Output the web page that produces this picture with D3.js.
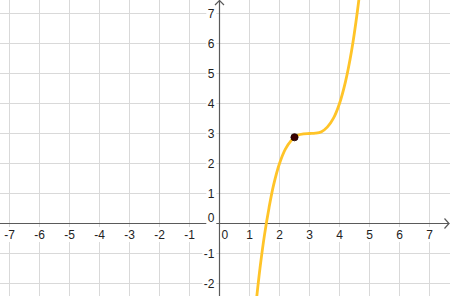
<!DOCTYPE html>
<html>
<head>
<meta charset="utf-8">
<script src="https://cdn.jsdelivr.net/npm/d3@7"></script>
<style>
  html, body { margin: 0; padding: 0; background: #fff; }
  svg { display: block; }
  text { font-family: "Liberation Sans", Arial, sans-serif; font-size: 12px; fill: #222; }
</style>
</head>
<body>
<svg id="chart" width="450" height="296"></svg>
<script>
// Data
const xTicks = [-7, -6, -5, -4, -3, -2, -1, 0, 1, 2, 3, 4, 5, 6, 7];
const xTickLabels = ["-7", "-6", "-5", "-4", "-3", "-2", "-1", "0", "1", "2", "3", "4", "5", "6", "7"];
const yTicks = [-2, -1, 0, 1, 2, 3, 4, 5, 6, 7];
const yTickLabels = ["-2", "-1", "0", "1", "2", "3", "4", "5", "6", "7"];
const curveX = [1.2, 1.35, 1.5, 1.65, 1.8, 2.0, 2.2, 2.4, 2.5, 2.6, 2.8, 3.0, 3.2, 3.4, 3.6, 3.8, 4.0, 4.2, 4.4, 4.6, 4.75];
const curveY = [-2.83, -1.49, -0.38, 0.52, 1.27, 2.0, 2.49, 2.78, 2.88, 2.94, 2.99, 3.0, 3.01, 3.06, 3.22, 3.51, 4.0, 4.73, 5.74, 7.1, 8.38];
const pointX = [2.5];
const pointY = [2.875];

const W = 450, H = 296;
const svg = d3.select("#chart");

const x = d3.scaleLinear().domain([-7, 7]).range([9.5, 429.5]);
const y = d3.scaleLinear().domain([-2, 7]).range([283.5, 13.5]);
const x0 = x(0), y0 = y(0);

// grid
const grid = svg.append("g").attr("stroke", "#d9d9d9").attr("stroke-width", 1);
grid.selectAll("line.v").data(xTicks).join("line")
  .attr("x1", d => x(d)).attr("x2", d => x(d)).attr("y1", 0).attr("y2", H);
grid.selectAll("line.h").data(yTicks).join("line")
  .attr("y1", d => y(d)).attr("y2", d => y(d)).attr("x1", 0).attr("x2", W);

// axes
const axes = svg.append("g").attr("stroke", "#5a5a5a").attr("stroke-width", 1.2).attr("fill", "none");
axes.append("line").attr("x1", 0).attr("x2", W - 1).attr("y1", y0).attr("y2", y0);
axes.append("line").attr("x1", x0).attr("x2", x0).attr("y1", 0.5).attr("y2", H);
axes.append("path").attr("d", `M${W - 5.5},${y0 - 5}L${W - 1},${y0}L${W - 5.5},${y0 + 5}`);
axes.append("path").attr("d", `M${x0 - 4.5},${5}L${x0},${0.5}L${x0 + 4.5},${5}`);

// x labels
const xl = svg.append("g");
xTicks.forEach((t, i) => {
  if (t === 0) return;
  const g = xl.append("g");
  const txt = g.append("text").attr("x", x(t)).attr("y", y0 + 15).attr("text-anchor", "middle").text(xTickLabels[i]);
  const bb = txt.node().getBBox();
  g.insert("rect", "text").attr("x", bb.x - 1.5).attr("y", bb.y - 0.5).attr("width", bb.width + 3).attr("height", bb.height + 1).attr("fill", "#fff");
});
// origin label on x axis
{
  const i = xTicks.indexOf(0);
  const g = xl.append("g");
  const txt = g.append("text").attr("x", x0 + 2).attr("y", y0 + 15).attr("text-anchor", "start").text(xTickLabels[i]);
  const bb = txt.node().getBBox();
  g.insert("rect", "text").attr("x", bb.x - 1).attr("y", bb.y - 0.5).attr("width", bb.width + 2).attr("height", bb.height + 1).attr("fill", "#fff");
}
// y labels
const yl = svg.append("g");
yTicks.forEach((t, i) => {
  const g = yl.append("g");
  const yy = t === 0 ? y0 - 2 : y(t) + 4.5;
  const txt = g.append("text").attr("x", x0 - 5).attr("y", yy).attr("text-anchor", "end").text(yTickLabels[i]);
  const bb = txt.node().getBBox();
  g.insert("rect", "text").attr("x", bb.x - 1.5).attr("y", bb.y - 0.5).attr("width", bb.width + 3).attr("height", bb.height + 1).attr("fill", "#fff");
});

// curve
const pts = curveX.map((d, i) => [d, curveY[i]]);
const line = d3.line().x(d => x(d[0])).y(d => y(d[1])).curve(d3.curveCatmullRom.alpha(0.5));
svg.append("path").datum(pts).attr("d", line)
  .attr("fill", "none").attr("stroke", "#ffc428").attr("stroke-width", 2.8)
  .attr("stroke-linecap", "round").attr("stroke-linejoin", "round");

// point
svg.selectAll("circle.pt").data(pointX).join("circle")
  .attr("cx", (d) => x(d)).attr("cy", (d, i) => y(pointY[i])).attr("r", 3.6)
  .attr("fill", "#3a0000").attr("stroke", "#1a0000").attr("stroke-width", 0.8);
</script>
</body>
</html>
